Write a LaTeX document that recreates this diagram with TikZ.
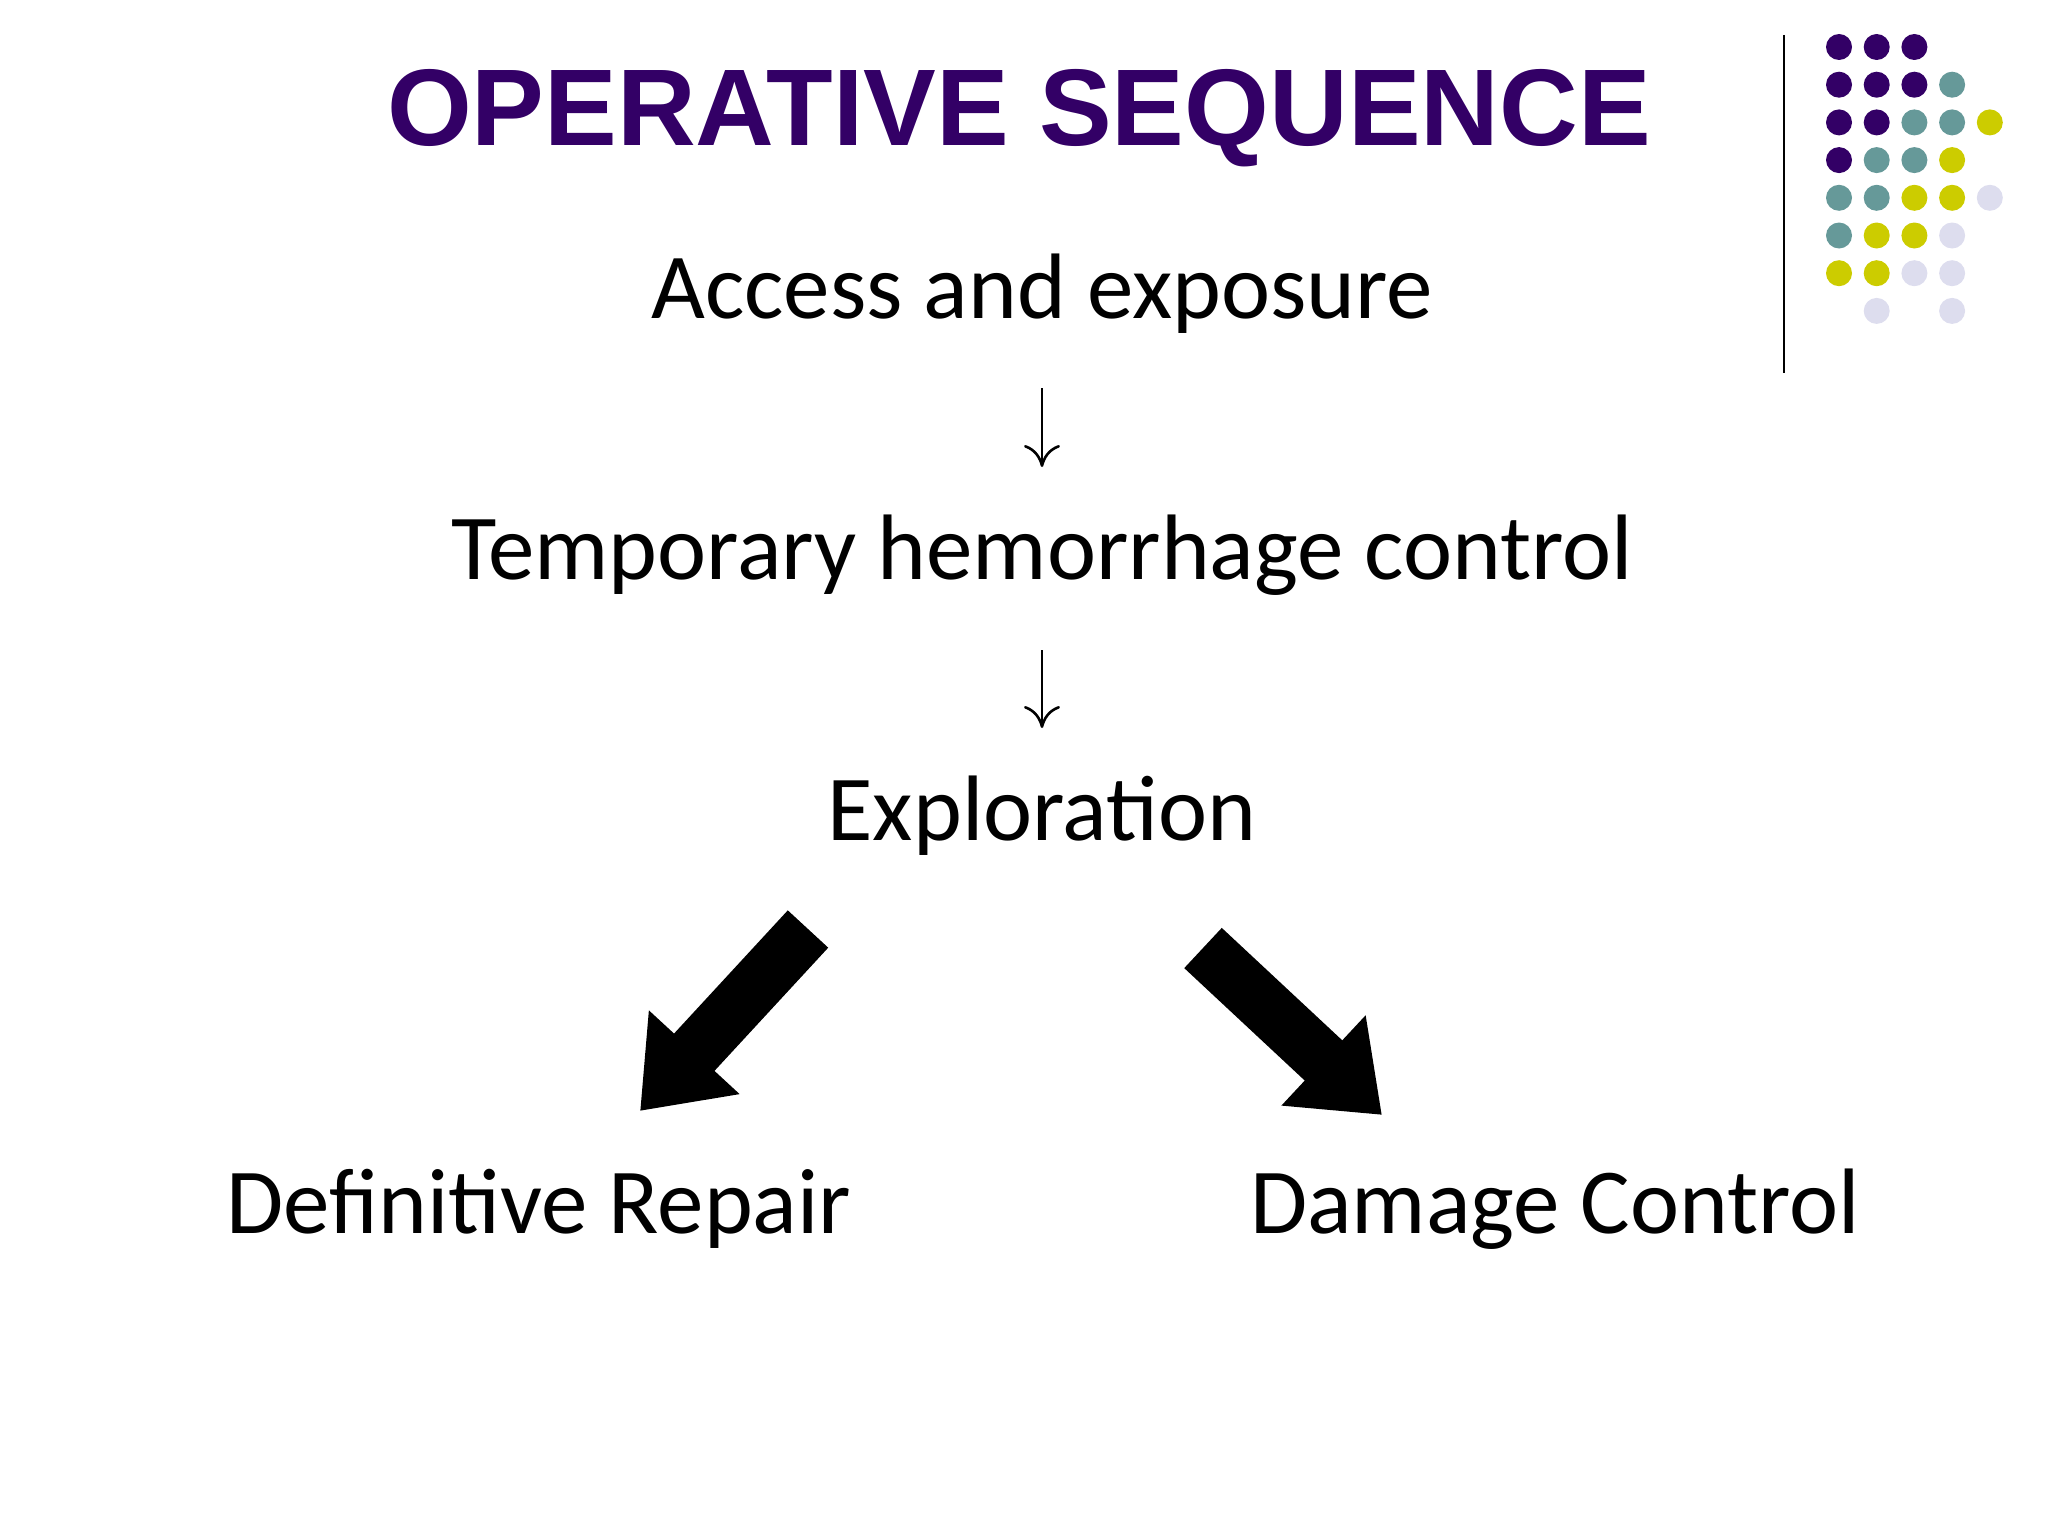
\documentclass[tikz,border=0pt]{standalone}
\usepackage{fontspec}
\setmainfont{Carlito}
\newfontfamily\titlefont{Liberation Sans}
\usetikzlibrary{arrows.meta}
\definecolor{dpurple}{HTML}{330066}
\definecolor{cP}{HTML}{330066}
\definecolor{cT}{HTML}{669999}
\definecolor{cY}{HTML}{CCCC00}
\definecolor{cL}{HTML}{DDDDEE}
\definecolor{cN}{HTML}{FFFFFF}
\begin{document}
\begin{tikzpicture}[x=1pt,y=-1pt,
  body/.style={font=\fontsize{93}{100}\selectfont, anchor=base, inner sep=0},
  thin arrow/.style={-{To[length=22pt,width=36pt]}, line width=2.6pt},
  big arrow/.style={line width=55pt, -{Triangle[length=80pt,width=118pt]}, black}]
\useasboundingbox (0,0) rectangle (2048,1536);
\node[text=dpurple, font=\titlefont\bfseries\fontsize{109}{115}\selectfont, inner sep=0] (title) at (1019,118) {OPERATIVE SEQUENCE};
\draw[line width=2pt] (1784,35) coordinate (l1) -- (1784,373) coordinate (l2);
\foreach \r/\row in {0/{P,P,P},1/{P,P,P,T},2/{P,P,T,T,Y},3/{P,T,T,Y},4/{T,T,Y,Y,L},5/{T,Y,Y,L},6/{Y,Y,L,L},7/{N,L,N,L}}{
  \foreach \c [count=\i from 0] in \row {
    \fill[c\c] (1839+37.7*\i,47+37.7*\r) circle (13);
  }
}
\node[body] (a) at (1042,318) {Access and exposure};
\node[body] (b) at (1042,579) {Temporary hemorrhage control};
\node[body] (c) at (1042,840) {Exploration};
\node[body] (d) at (539,1233) {Definitive Repair};
\node[body] (e) at (1555,1233) {Damage Control};
\coordinate (a1) at (1042,388); \coordinate (a2) at (1042,467);
\coordinate (b1) at (1042,650); \coordinate (b2) at (1042,728);
\draw[thin arrow] (a1) -- (a2);
\draw[thin arrow] (b1) -- (b2);
\coordinate (ls) at (808,929); \coordinate (lt) at (640,1111);
\coordinate (rs) at (1203,948); \coordinate (rt) at (1382,1115);
\draw[big arrow] (ls) -- (lt);
\draw[big arrow] (rs) -- (rt);
\end{tikzpicture}
\end{document}
